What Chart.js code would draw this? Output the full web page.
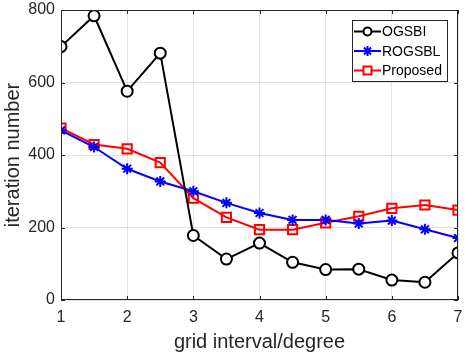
<!DOCTYPE html>
<html><head><meta charset="utf-8">
<script src="https://cdn.jsdelivr.net/npm/chart.js@4"></script>
<style>html,body{margin:0;padding:0;background:#fff}#wrap{width:474px;height:355px}</style>
</head><body><div id="wrap"><canvas id="c" width="474" height="355"></canvas></div>
<script>
const gridInterval = [1, 1.5, 2, 2.5, 3, 3.5, 4, 4.5, 5, 5.5, 6, 6.5, 7];
const ogsbi    = [699, 784, 576, 681, 178, 113, 157, 104, 84, 85, 55, 49, 130];
const rogsbl   = [468, 422, 362, 327, 300, 268, 240, 221, 221, 211, 219, 195, 171];
const proposed = [474, 429, 417, 379, 281, 228, 194, 194, 213, 231, 253, 262, 248];
const xTicks = [1, 2, 3, 4, 5, 6, 7];
const yTicks = [0, 200, 400, 600, 800];
const seriesNames = ['OGSBI', 'ROGSBL', 'Proposed'];
const xTitle = 'grid interval/degree';
const yTitle = 'iteration number';

const FONT = '"Liberation Sans", Arial, Helvetica, sans-serif';
const AX = '#262626';

const toPts = arr => gridInterval.map((x, i) => ({x: x, y: arr[i]}));

const boxPlugin = {
  id: 'box',
  afterDraw(chart) {
    const ctx = chart.ctx, a = chart.chartArea;
    const xs = chart.scales.x, ys = chart.scales.y;
    ctx.save();
    ctx.strokeStyle = AX;
    ctx.lineWidth = 1;
    ctx.strokeRect(Math.round(a.left) + 0.5, Math.round(a.top) + 0.5,
                   Math.round(a.right - a.left) - 1, Math.round(a.bottom - a.top) - 1);
    const L = 4;
    ctx.beginPath();
    xTicks.forEach(v => {
      const px = Math.round(xs.getPixelForValue(v)) + 0.5;
      ctx.moveTo(px, a.bottom); ctx.lineTo(px, a.bottom - L);
      ctx.moveTo(px, a.top); ctx.lineTo(px, a.top + L);
    });
    yTicks.forEach(v => {
      const py = Math.round(ys.getPixelForValue(v)) + 0.5;
      ctx.moveTo(a.left, py); ctx.lineTo(a.left + L, py);
      ctx.moveTo(a.right, py); ctx.lineTo(a.right - L, py);
    });
    ctx.stroke();

    // legend
    const lx = 352, ly = 20, lw = 95, lh = 61;
    ctx.fillStyle = '#fff';
    ctx.fillRect(lx, ly, lw, lh);
    ctx.strokeStyle = AX;
    ctx.lineWidth = 1;
    ctx.strokeRect(lx + 0.5, ly + 0.5, lw, lh);
    const rows = [31.5, 51, 70.5];
    chart.data.datasets.forEach((ds, i) => {
      const y = rows[i];
      const cx = lx + 15.5;
      ctx.strokeStyle = ds.borderColor;
      ctx.lineWidth = 2;
      ctx.beginPath(); ctx.moveTo(lx + 2, y); ctx.lineTo(lx + 29, y); ctx.stroke();
      ctx.fillStyle = '#fff';
      ctx.beginPath();
      if (ds.pointStyle === 'circle') { ctx.arc(cx, y, 4, 0, Math.PI * 2); ctx.fill(); ctx.stroke(); }
      else if (ds.pointStyle === 'rect') { ctx.rect(cx - 4, y - 4, 8, 8); ctx.fill(); ctx.stroke(); }
      else {
        for (let k = 0; k < 4; k++) {
          const ang = k * Math.PI / 4;
          const dx = Math.cos(ang) * 5, dy = Math.sin(ang) * 5;
          ctx.moveTo(cx - dx, y - dy); ctx.lineTo(cx + dx, y + dy);
        }
        ctx.stroke();
      }
      ctx.fillStyle = '#000';
      ctx.font = '14px ' + FONT;
      ctx.textBaseline = 'middle';
      ctx.textAlign = 'left';
      ctx.fillText(ds.label, lx + 30, y + 1);
    });
    ctx.restore();
  }
};

new Chart(document.getElementById('c'), {
  type: 'line',
  data: {
    datasets: [
      {label: seriesNames[0], data: toPts(ogsbi), borderColor: '#000000', backgroundColor: '#ffffff',
       pointStyle: 'circle', pointRadius: 5.5, pointBorderWidth: 2, borderWidth: 2},
      {label: seriesNames[1], data: toPts(rogsbl), borderColor: '#0000ff', backgroundColor: '#0000ff',
       pointStyle: 'star', pointRadius: 5.5, pointBorderWidth: 2, borderWidth: 2},
      {label: seriesNames[2], data: toPts(proposed), borderColor: '#ff0000', backgroundColor: 'rgba(255,255,255,0)',
       pointStyle: 'rect', pointRadius: 6.5, pointBorderWidth: 2, borderWidth: 2}
    ]
  },
  options: {
    responsive: false,
    animation: false,
    devicePixelRatio: 1,
    layout: {padding: {left: 0, top: 10, right: 16, bottom: 0}},
    plugins: {legend: {display: false}, tooltip: {enabled: false}},
    elements: {line: {tension: 0}},
    scales: {
      x: {
        type: 'linear', min: 1, max: 7,
        afterBuildTicks: s => { s.ticks = xTicks.map(v => ({value: v})); },
        afterFit: s => { s.height = 55; s.paddingLeft = 0; s.paddingRight = 0; },
        grid: {color: 'rgba(38,38,38,0.13)', drawTicks: false},
        border: {display: false},
        ticks: {color: AX, font: {family: FONT, size: 16}, padding: 8, maxRotation: 0},
        title: {display: true, text: xTitle, color: AX, font: {family: FONT, size: 20}, padding: {top: 0, bottom: 1}}
      },
      y: {
        type: 'linear', min: 0, max: 800,
        afterBuildTicks: s => { s.ticks = yTicks.map(v => ({value: v})); },
        afterFit: s => { s.width = 61; s.paddingTop = 0; s.paddingBottom = 0; },
        grid: {color: 'rgba(38,38,38,0.13)', drawTicks: false},
        border: {display: false},
        ticks: {color: AX, font: {family: FONT, size: 16}, padding: 6},
        title: {display: true, text: yTitle, color: AX, font: {family: FONT, size: 20}, padding: {top: 1, bottom: 0}}
      }
    }
  },
  plugins: [boxPlugin]
});
</script>
</body></html>
